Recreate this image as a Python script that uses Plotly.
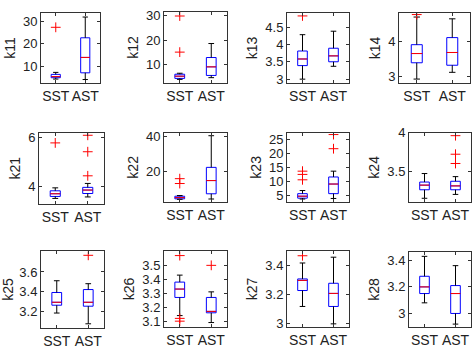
import plotly.graph_objects as go

names = ["k11", "k12", "k13", "k14", "k21", "k22", "k23", "k24", "k25", "k26", "k27", "k28"]
groups = ["SST", "AST"]

# SST statistics: lower whisker, q1, median, q3, upper whisker
sst_lw = [4.2, 4.1, 3.00, 2.93, 3.52, 3.8, 3.8, 3.15, 3.18, 3.14, 3.12, 3.08]
sst_q1 = [4.8, 4.5, 3.39, 3.39, 3.60, 4.1, 4.1, 3.26, 3.26, 3.27, 3.23, 3.15]
sst_md = [5.3, 5.4, 3.58, 3.65, 3.71, 4.8, 4.8, 3.32, 3.29, 3.33, 3.30, 3.20]
sst_q3 = [6.3, 6.2, 3.81, 3.90, 3.83, 5.6, 5.7, 3.36, 3.39, 3.38, 3.31, 3.28]
sst_uw = [7.2, 6.6, 4.28, 4.68, 3.95, 6.0, 6.8, 3.47, 3.51, 3.43, 3.42, 3.43]
sst_out = [[27.4], [29.9, 15.2], [4.82], [4.75], [5.78], [15.7, 12.9],
           [13.65, 12.5, 10.6], [], [], [3.57, 3.12, 3.10], [3.47], []]

# AST statistics
ast_lw = [4.0, 4.8, 3.37, 3.12, 3.58, 4.0, 4.0, 3.20, 3.07, 3.09, 3.00, 2.92]
ast_q1 = [7.0, 5.7, 3.50, 3.32, 3.72, 7.0, 5.7, 3.26, 3.25, 3.16, 3.12, 3.00]
ast_md = [13.9, 9.2, 3.67, 3.68, 3.86, 14.6, 9.1, 3.31, 3.29, 3.17, 3.21, 3.15]
ast_q3 = [22.7, 13.0, 3.89, 4.10, 3.97, 22.2, 11.6, 3.37, 3.42, 3.27, 3.28, 3.21]
ast_uw = [32.0, 18.7, 4.38, 4.63, 4.13, 40.4, 13.65, 3.43, 3.48, 3.31, 3.46, 3.36]
ast_out = [[], [], [], [], [6.09, 5.42, 4.44], [], [26.6, 21.6],
           [3.96, 3.72, 3.60], [3.77], [3.50], [], []]

# y tick values per panel
yticks = [[10, 20, 30], [10, 20, 30], [3, 3.5, 4, 4.5], [3, 4], [4, 6], [20, 40],
          [5, 10, 15, 20, 25], [3.5, 4], [3.2, 3.4, 3.6], [3.1, 3.2, 3.3, 3.4, 3.5],
          [3, 3.2, 3.4], [3, 3.2, 3.4]]

# layout (styling): y ranges and pixel boxes of each panel
yranges = [[2.3, 33.9], [2.5, 31.6], [2.88, 4.91], [2.81, 4.8], [3.29, 6.2], [2.2, 42.2],
           [2.7, 27.3], [3.1, 4.0], [3.03, 3.81], [3.06, 3.6], [2.98, 3.5], [2.9, 3.46]]
boxes_px = [(41, 100, 6, 79), (164, 227, 5, 79), (287, 349, 6, 79), (399, 470, 6, 79),
            (39, 104, 130, 204), (164, 227, 130, 202), (287, 349, 130, 202), (409, 471, 130, 202),
            (41, 104, 253, 332), (164, 227, 253, 331), (287, 349, 253, 331), (409, 471, 254, 331)]

W, H = 474, 353
BW = 0.31   # box width
CAP = 0.09  # half cap width
FONT = "Arial, Liberation Sans, sans-serif"

fig = go.Figure()

for i, name in enumerate(names):
    sfx = "" if i == 0 else str(i + 1)
    xa, ya = "x" + sfx, "y" + sfx
    stats = [
        (1, sst_lw[i], sst_q1[i], sst_md[i], sst_q3[i], sst_uw[i], sst_out[i]),
        (2, ast_lw[i], ast_q1[i], ast_md[i], ast_q3[i], ast_uw[i], ast_out[i]),
    ]
    wx, wy, mx, my, ox, oy = [], [], [], [], [], []
    for pos, lw, q1, md, q3, uw, outs in stats:
        fig.add_trace(go.Box(
            x=[pos], q1=[q1], median=[md], q3=[q3], lowerfence=[q1], upperfence=[q3],
            width=BW, whiskerwidth=0, boxpoints=False,
            line=dict(color="#0000ff", width=1), fillcolor="rgba(0,0,0,0)",
            xaxis=xa, yaxis=ya, showlegend=False, hoverinfo="skip"))
        # whiskers + caps
        wx += [pos, pos, None, pos, pos, None,
               pos - CAP, pos + CAP, None, pos - CAP, pos + CAP, None]
        wy += [q3, uw, None, q1, lw, None, uw, uw, None, lw, lw, None]
        mx += [pos - BW / 2, pos + BW / 2, None]
        my += [md, md, None]
        ox += [pos] * len(outs)
        oy += list(outs)
    fig.add_trace(go.Scatter(x=wx, y=wy, mode="lines", line=dict(color="black", width=1),
                             xaxis=xa, yaxis=ya, showlegend=False, hoverinfo="skip"))
    fig.add_trace(go.Scatter(x=mx, y=my, mode="lines", line=dict(color="#ff0000", width=1),
                             xaxis=xa, yaxis=ya, showlegend=False, hoverinfo="skip"))
    fig.add_trace(go.Scatter(x=ox, y=oy, mode="markers",
                             marker=dict(symbol="cross-thin", size=7,
                                         line=dict(color="#ff0000", width=1)),
                             xaxis=xa, yaxis=ya, showlegend=False, hoverinfo="skip"))

    l, r, t, b = boxes_px[i]
    axis_common = dict(showline=True, linecolor="#333333", linewidth=1, mirror="ticks",
                       ticks="inside", ticklen=3, tickcolor="#333333", showgrid=False,
                       zeroline=False)
    fig.layout["xaxis" + sfx] = dict(
        domain=[l / W, r / W], anchor=ya, range=[0.5, 2.5], tickangle=0,
        tickvals=[1, 2], ticktext=groups,
        tickfont=dict(family=FONT, size=14, color="#222222"), **axis_common)
    fig.layout["yaxis" + sfx] = dict(
        domain=[1 - b / H, 1 - t / H], anchor=xa, range=yranges[i],
        tickvals=yticks[i], tickfont=dict(family=FONT, size=13, color="#222222"),
        title=dict(text=name, font=dict(family=FONT, size=14, color="#222222"), standoff=4),
        **axis_common)

fig.update_layout(width=W, height=H, margin=dict(l=0, r=0, t=0, b=0),
                  paper_bgcolor="white", plot_bgcolor="white", showlegend=False)

fig.write_html("out.html")
